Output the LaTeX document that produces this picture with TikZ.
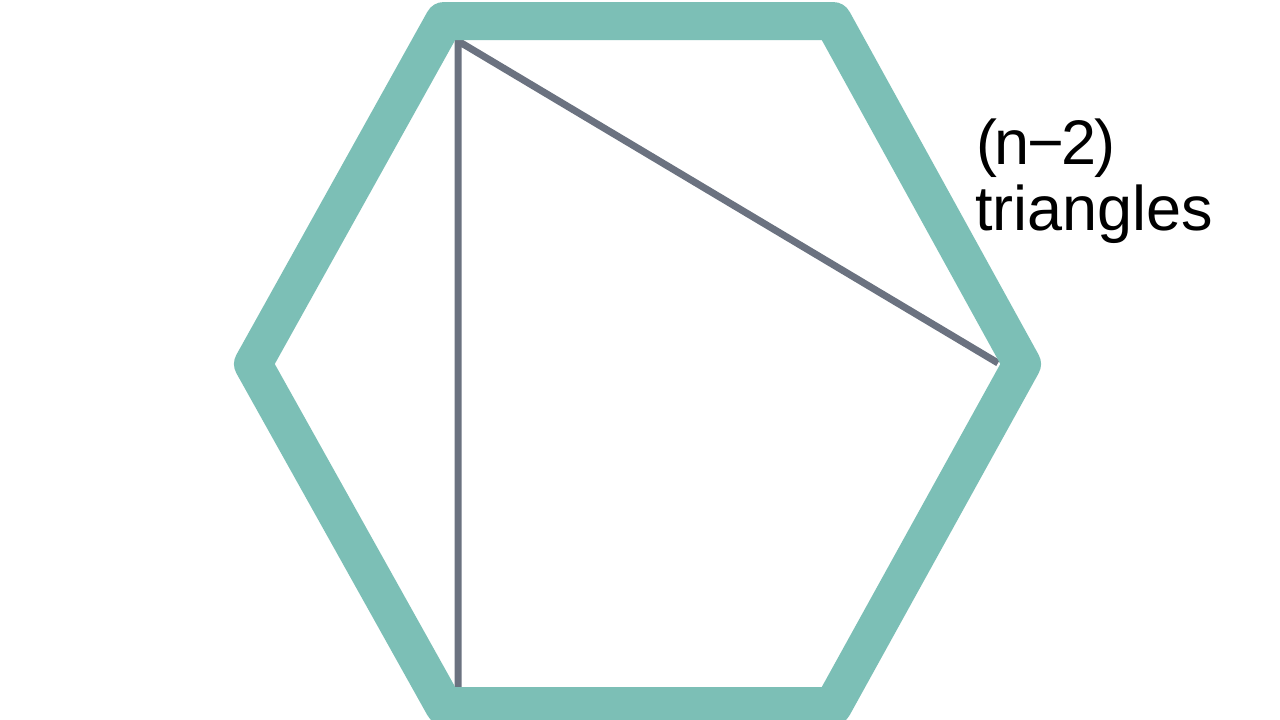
\documentclass[tikz,border=0pt]{standalone}
\usepackage{fontspec}
\setmainfont{Liberation Sans}
\definecolor{hexteal}{RGB}{124,191,182}
\definecolor{diaggray}{RGB}{107,114,128}
\tikzset{
  hexedge/.style={draw=hexteal, line width=38pt, line join=round},
  diagline/.style={draw=diaggray, line width=7pt, line join=miter},
  lbl/.style={anchor=base west, inner sep=0pt, font=\fontsize{63}{66}\selectfont, text=black}
}
\begin{document}
\begin{tikzpicture}[x=1pt,y=-1pt]
\useasboundingbox (0,0) rectangle (1280,720);
\fill[white] (0,0) rectangle (1280,720);
\coordinate (tl) at (444,21);
\coordinate (tr) at (833,21);
\coordinate (r) at (1022,364);
\coordinate (br) at (833,706);
\coordinate (bl) at (444,706);
\coordinate (l) at (253,364);
\coordinate (d0) at (458,41);
\coordinate (d1) at (458,690);
\coordinate (d2) at (998,363);
\draw[diagline] (d1) -- (d0) -- (d2);
\draw[hexedge] (tl) -- (tr) -- (r) -- (br) -- (bl) -- (l) -- cycle;
\node[lbl] (lab1) at (976,164) {\addfontfeature{LetterSpace=-4}(n−2)};
\node[lbl] (lab2) at (975,230) {triangles};
\end{tikzpicture}
\end{document}
